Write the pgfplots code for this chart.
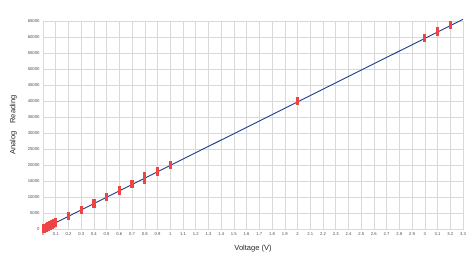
\documentclass[border=0pt]{standalone}
\usepackage{pgfplots}
\pgfplotsset{compat=1.18}
\usepackage{fontspec}
\setmainfont{Liberation Sans}
\definecolor{linecol}{HTML}{1F3B8C}
\definecolor{barcol}{HTML}{EE4444}
\begin{document}
\begin{tikzpicture}[x=1pt,y=1pt]
\useasboundingbox (-43,-29) rectangle (431,229);
\begin{axis}[
  at={(0,0)}, anchor=south west,
  scale only axis, width=420pt, height=208pt,
  xmin=0, xmax=3.3, ymin=0, ymax=65000,
  xtick distance=0.1, ytick distance=5000,
  grid=major, major grid style={gray!30, line width=0.5pt},
  axis line style={gray!30},
  tick style={draw=none},
  ticklabel style={font=\fontsize{4.2}{5}\selectfont, text=black!70},
  /pgf/number format/assume math mode=true,
  scaled y ticks=false,
  yticklabel style={/pgf/number format/1000 sep={}},
  xticklabel style={/pgf/number format/fixed, /pgf/number format/precision=1},
  xlabel={Voltage (V)}, ylabel={Analog\quad Reading},
  label style={font=\fontsize{7.5}{8}\selectfont, text=black!85},
  xlabel style={yshift=-3pt},
  ylabel style={yshift=4pt},
  clip=false,
]
\addplot[linecol, line width=0.9pt] coordinates {(0,0) (3.3,65535)};
\addplot[barcol, only marks, mark=|, mark size=4.2pt,
  mark options={draw=barcol, fill=barcol, line width=3.2pt}]
  coordinates {
  (0.005,100) (0.01,200) (0.015,300) (0.02,400) (0.025,500)
  (0.03,600) (0.035,700) (0.04,800) (0.045,900) (0.05,1000)
  (0.055,1100) (0.06,1200) (0.065,1300) (0.07,1400) (0.075,1500)
  (0.08,1600) (0.085,1700) (0.09,1800) (0.095,1900) (0.10,2000)
  (0.2,4000) (0.3,6000) (0.4,8000) (0.5,10000) (0.6,12000)
  (0.7,14000) (0.8,15400) (0.8,16600) (0.9,18000) (1.0,20000)
  (2.0,40000) (3.0,59700) (3.1,61700) (3.2,63700)
  };
\end{axis}
\end{tikzpicture}
\end{document}
